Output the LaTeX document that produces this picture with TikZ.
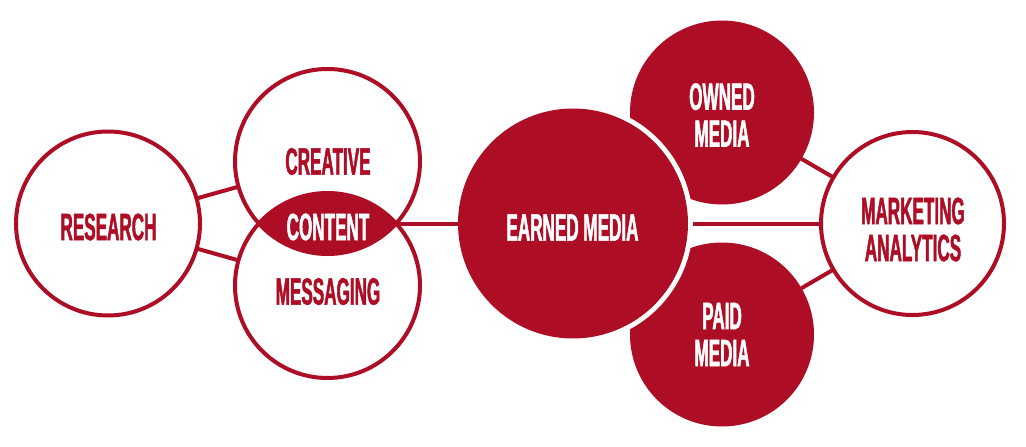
\documentclass[tikz,border=0pt]{standalone}
\usepackage{fontspec}
\newfontfamily\cond{Liberation Sans}[UprightFont={* Bold}, FakeStretch=0.45, FakeBold=1.2]
\definecolor{brand}{RGB}{173,13,37}
\begin{document}
\begin{tikzpicture}[x=1pt,y=-1pt,
  ring/.style={circle, draw=brand, line width=4pt, inner sep=0pt, outer sep=0pt, minimum size=#1},
  disc/.style={circle, fill=brand, inner sep=0pt, outer sep=0pt, minimum size=#1},
  link/.style={draw=brand, line width=4pt},
  lbl/.style={font=\cond\fontsize{38}{37}\selectfont, text=brand, align=center, inner sep=0pt},
  lblw/.style={lbl, text=white}]
\fill[white] (0,0) rectangle (1026,447);
\useasboundingbox (0,0) rectangle (1026,447);
% filled media circles
\node[disc=184pt] (owned) at (722,112.5) {};
\node[disc=184pt] (paid)  at (722,334.5) {};
\draw[white, line width=5pt] (573,223.5) circle[radius=117.5pt];
\node[disc=230pt, outer sep=5pt] (earned) at (573,223.5) {};
% outlined circles
\node[ring=184pt] (research)  at (108,223.5) {};
\node[ring=185pt] (creative)  at (327.5,161.5) {};
\node[ring=185pt] (messaging) at (327.5,285.5) {};
\node[ring=183pt] (marketing) at (912.5,223.5) {};
% content lens
\begin{scope}
  \clip (creative.center) circle[radius=92.5pt];
  \fill[brand] (messaging.center) circle[radius=92.5pt];
\end{scope}
% connectors
\coordinate (tipR) at (396.1,223.5);
\draw[link] (research) -- (creative);
\draw[link] (research) -- (messaging);
\draw[link] (tipR) -- (earned.center);
\draw[link] (earned) -- (marketing);
\draw[link] (owned) -- (marketing);
\draw[link] (paid) -- (marketing);
% labels
\node[lbl]  (tresearch)  at (108.5,227)   {RESEARCH};
\node[lbl]  (tcreative)  at (328,161.5)   {CREATIVE};
\node[lblw] (tcontent)   at (328,227)     {CONTENT};
\node[lbl]  (tmessaging) at (328,291.5)   {MESSAGING};
\node[lblw] (tearned)    at (572.5,227.5) {EARNED MEDIA};
\node[lblw] (towned)     at (722,115)     {OWNED\\MEDIA};
\node[lblw] (tpaid)      at (722,334.5)   {PAID\\MEDIA};
\node[lbl]  (tmarketing) at (913,229.5)   {MARKETING\\ANALYTICS};
\end{tikzpicture}
\end{document}
